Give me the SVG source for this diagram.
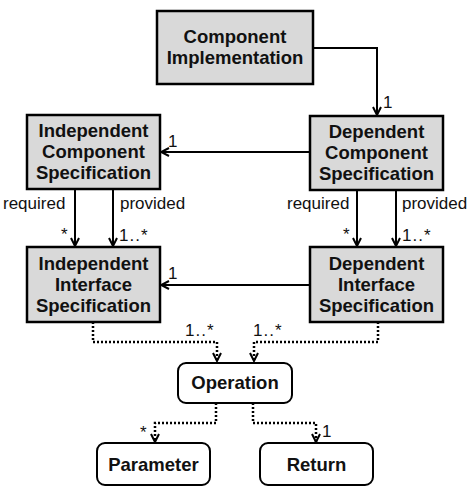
<svg xmlns="http://www.w3.org/2000/svg" width="474" height="496" viewBox="0 0 474 496">
<style>
.box{fill:#d9d9d9;stroke:#000;stroke-width:2.5}
.rbox{fill:#fff;stroke:#000;stroke-width:2}
.t{font-family:"Liberation Sans",Arial,sans-serif;font-weight:bold;font-size:18.5px;text-anchor:middle;fill:#111}
.l{font-family:"Liberation Sans",Arial,sans-serif;font-size:17px;fill:#111}
.m{letter-spacing:1px}
.c{fill:none;stroke:#000;stroke-width:2}
.d{fill:none;stroke:#000;stroke-width:2.5;stroke-dasharray:2 2}
</style>
<defs>
<marker id="a" viewBox="0 0 10 10" refX="9" refY="5" markerWidth="10" markerHeight="10" markerUnits="userSpaceOnUse" orient="auto">
<path d="M1,1 L9,5 L1,9" fill="none" stroke="#000" stroke-width="2"/>
</marker>
</defs>
<g id="connectors">
<path class="c" d="M313,48 H377 V115" marker-end="url(#a)"/>
<path class="c" d="M310,152 H161" marker-end="url(#a)"/>
<path class="c" d="M75,189 V246" marker-end="url(#a)"/>
<path class="c" d="M113,189 V246" marker-end="url(#a)"/>
<path class="c" d="M357,190 V246" marker-end="url(#a)"/>
<path class="c" d="M396,190 V246" marker-end="url(#a)"/>
<path class="c" d="M310,285 H161" marker-end="url(#a)"/>
<path class="d" d="M93,322 V342 H217 V361" marker-end="url(#a)"/>
<path class="d" d="M378,322 V342 H254 V361" marker-end="url(#a)"/>
<path class="d" d="M216,403 V423 H155 V442" marker-end="url(#a)"/>
<path class="d" d="M253,403 V423 H316 V442" marker-end="url(#a)"/>
<text class="l" x="383" y="108">1</text>
<text class="l" x="168" y="147">1</text>
<text class="l" x="168" y="279">1</text>
<text class="l" x="3" y="209">required</text>
<text class="l" x="120" y="209">provided</text>
<text class="l" x="61" y="240">*</text>
<text class="l m" x="119" y="241">1..*</text>
<text class="l" x="287" y="209">required</text>
<text class="l" x="402" y="209">provided</text>
<text class="l" x="343" y="240">*</text>
<text class="l m" x="402" y="241">1..*</text>
<text class="l m" x="185" y="336">1..*</text>
<text class="l m" x="253" y="336">1..*</text>
<text class="l" x="140" y="438">*</text>
<text class="l" x="322" y="437">1</text>
</g>
<g id="component-implementation">
<rect class="box" x="157" y="11" width="156" height="73"/>
<text class="t" x="235" y="43">Component</text>
<text class="t" x="235" y="64">Implementation</text>
</g>
<g id="independent-component-specification">
<rect class="box" x="27" y="115" width="133" height="74"/>
<text class="t" x="93.5" y="137">Independent</text>
<text class="t" x="93.5" y="158">Component</text>
<text class="t" x="93.5" y="179">Specification</text>
</g>
<g id="dependent-component-specification">
<rect class="box" x="310" y="116" width="133" height="74"/>
<text class="t" x="376.5" y="138">Dependent</text>
<text class="t" x="376.5" y="159">Component</text>
<text class="t" x="376.5" y="180">Specification</text>
</g>
<g id="independent-interface-specification">
<rect class="box" x="27" y="247" width="133" height="75"/>
<text class="t" x="93.5" y="270">Independent</text>
<text class="t" x="93.5" y="291">Interface</text>
<text class="t" x="93.5" y="312">Specification</text>
</g>
<g id="dependent-interface-specification">
<rect class="box" x="310" y="247" width="133" height="75"/>
<text class="t" x="376.5" y="270">Dependent</text>
<text class="t" x="376.5" y="291">Interface</text>
<text class="t" x="376.5" y="312">Specification</text>
</g>
<g id="operation">
<rect class="rbox" x="178" y="363" width="114" height="40" rx="8"/>
<text class="t" x="235" y="389">Operation</text>
</g>
<g id="parameter">
<rect class="rbox" x="97" y="443" width="113" height="42" rx="8"/>
<text class="t" x="153.5" y="471">Parameter</text>
</g>
<g id="return">
<rect class="rbox" x="260" y="443" width="113" height="42" rx="8"/>
<text class="t" x="316.5" y="471">Return</text>
</g>
</svg>
